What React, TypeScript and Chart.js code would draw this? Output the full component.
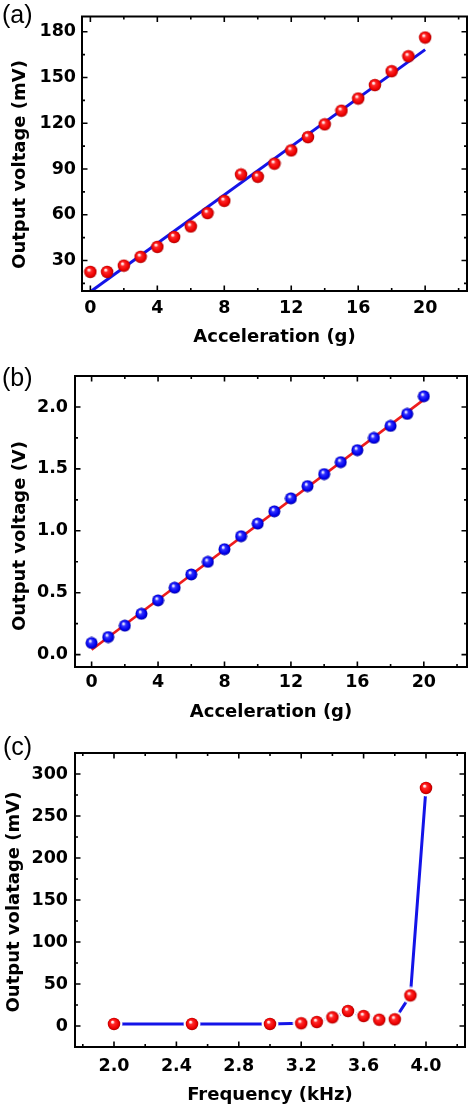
import React, { useEffect, useRef } from 'react';
import { Chart, registerables } from 'chart.js';

Chart.register(...registerables);

// ---------- Panel (a): output voltage (mV) vs acceleration (g) ----------
const A_ACCEL = [0, 1, 2, 3, 4, 5, 6, 7, 8, 9, 10, 11, 12, 13, 14, 15, 16, 17, 18, 19, 20];
const A_VOLTAGE_MV = [22.5, 22.5, 26.6, 32.4, 38.9, 45.4, 52.3, 61.1, 69.1, 86.4, 84.9, 93.5, 102.2, 110.9, 119.3, 128.2, 136.2, 145.0, 154.1, 163.9, 176.2];
const A_FIT_X = [0, 20];
const A_FIT_Y = [9.5, 168.3];
const A_X_TICKS = [0, 4, 8, 12, 16, 20];
const A_X_MINOR = [2, 6, 10, 14, 18, 22];
const A_Y_TICKS = [30, 60, 90, 120, 150, 180];
const A_Y_MINOR = [15, 45, 75, 105, 135, 165];

// ---------- Panel (b): output voltage (V) vs acceleration (g) ----------
const B_ACCEL = [0, 1, 2, 3, 4, 5, 6, 7, 8, 9, 10, 11, 12, 13, 14, 15, 16, 17, 18, 19, 20];
const B_VOLTAGE_V = [0.094, 0.142, 0.234, 0.33, 0.438, 0.54, 0.647, 0.749, 0.851, 0.956, 1.058, 1.157, 1.262, 1.361, 1.458, 1.554, 1.651, 1.75, 1.847, 1.944, 2.086];
const B_FIT_X = [0, 20];
const B_FIT_Y = [0.04, 2.059];
const B_X_TICKS = [0, 4, 8, 12, 16, 20];
const B_X_MINOR = [2, 6, 10, 14, 18, 22];
const B_Y_TICKS = [0, 0.5, 1.0, 1.5, 2.0];
const B_Y_MINOR = [0.25, 0.75, 1.25, 1.75];

// ---------- Panel (c): output voltage (mV) vs frequency (kHz) ----------
const C_FREQ = [2.0, 2.5, 3.0, 3.2, 3.3, 3.4, 3.5, 3.6, 3.7, 3.8, 3.9, 4.0];
const C_VOLTAGE_MV = [2.4, 2.4, 2.4, 3.2, 4.7, 10.3, 17.8, 11.9, 7.5, 7.9, 36.4, 283.4];
const C_X_TICKS = [2.0, 2.4, 2.8, 3.2, 3.6, 4.0];
const C_X_MINOR = [1.8, 2.2, 2.6, 3.0, 3.4, 3.8, 4.2];
const C_Y_TICKS = [0, 50, 100, 150, 200, 250, 300];
const C_Y_MINOR = [25, 75, 125, 175, 225, 275];

const W = 474;
const TICK_FONT = { family: '"DejaVu Sans", sans-serif', size: 17.5, weight: 'bold' as const };
const TITLE_FONT = { family: '"DejaVu Sans", sans-serif', size: 18, weight: 'bold' as const };

function makeSphere(kind: 'red' | 'blue', diameter: number, ring: number): HTMLCanvasElement {
  const size = Math.ceil(diameter + ring * 2) + 1;
  const c = document.createElement('canvas');
  c.width = size;
  c.height = size;
  const ctx = c.getContext('2d')!;
  const cx = size / 2;
  const cy = size / 2;
  const r = diameter / 2;
  if (ring > 0) {
    ctx.beginPath();
    ctx.arc(cx, cy, r + ring, 0, Math.PI * 2);
    ctx.fillStyle = '#ffffff';
    ctx.fill();
  }
  const g = ctx.createRadialGradient(cx - r * 0.28, cy - r * 0.38, 0, cx, cy, r);
  if (kind === 'red') {
    g.addColorStop(0, '#ffffff');
    g.addColorStop(0.16, '#ffd6d6');
    g.addColorStop(0.34, '#ff2a2a');
    g.addColorStop(0.78, '#ee0000');
    g.addColorStop(1, '#a80000');
  } else {
    g.addColorStop(0, '#ffffff');
    g.addColorStop(0.16, '#d6d6ff');
    g.addColorStop(0.34, '#3434ff');
    g.addColorStop(0.78, '#0000ee');
    g.addColorStop(1, '#0000a0');
  }
  ctx.beginPath();
  ctx.arc(cx, cy, r, 0, Math.PI * 2);
  ctx.fillStyle = g;
  ctx.fill();
  return c;
}

type Spec = {
  top: number;
  height: number;
  area: { left: number; top: number; right: number; bottom: number };
  xRange: [number, number];
  yRange: [number, number];
  xTicks: number[];
  xMinor: number[];
  yTicks: number[];
  yMinor: number[];
  xFmt: (v: number) => string;
  yFmt: (v: number) => string;
  xTickPad: number;
  xTitlePad: number;
  yTickPad: number;
  xTitle: string;
  yTitle: string;
  yTitlePos: [number, number];
  label: string;
  labelPos: [number, number];
  datasets: () => any[];
};

function framePlugin(s: Spec) {
  return {
    id: 'frameDeco',
    afterDatasetsDraw(chart: any) {
      const { ctx, chartArea: a, scales } = chart;
      const xs = scales.x;
      const ys = scales.y;
      ctx.save();
      ctx.strokeStyle = '#000';
      ctx.lineWidth = 1.6;
      ctx.beginPath();
      const xt = (vals: number[], len: number) => {
        for (const v of vals) {
          const px = xs.getPixelForValue(v);
          if (px < a.left + 1 || px > a.right - 1) continue;
          ctx.moveTo(px, a.bottom);
          ctx.lineTo(px, a.bottom - len);
          ctx.moveTo(px, a.top);
          ctx.lineTo(px, a.top + len);
        }
      };
      const yt = (vals: number[], len: number) => {
        for (const v of vals) {
          const py = ys.getPixelForValue(v);
          if (py < a.top + 1 || py > a.bottom - 1) continue;
          ctx.moveTo(a.left, py);
          ctx.lineTo(a.left + len, py);
          ctx.moveTo(a.right, py);
          ctx.lineTo(a.right - len, py);
        }
      };
      xt(s.xTicks, 5.5);
      xt(s.xMinor, 3);
      yt(s.yTicks, 5.5);
      yt(s.yMinor, 3);
      ctx.stroke();
      ctx.lineWidth = 2;
      ctx.strokeRect(a.left, a.top, a.right - a.left, a.bottom - a.top);

      ctx.fillStyle = '#000';
      ctx.save();
      ctx.translate(s.yTitlePos[0], s.yTitlePos[1]);
      ctx.rotate(-Math.PI / 2);
      ctx.font = 'bold 18px "DejaVu Sans"';
      ctx.textAlign = 'center';
      ctx.textBaseline = 'middle';
      ctx.fillText(s.yTitle, 0, 0);
      ctx.restore();

      ctx.font = '25px "Liberation Sans"';
      ctx.textAlign = 'left';
      ctx.textBaseline = 'alphabetic';
      ctx.fillText(s.label, s.labelPos[0], s.labelPos[1]);
      ctx.restore();
    },
  };
}

function Panel({ spec }: { spec: Spec }) {
  const ref = useRef<HTMLCanvasElement | null>(null);
  useEffect(() => {
    if (!ref.current) return;
    const s = spec;
    const chart = new Chart(ref.current, {
      type: 'scatter',
      data: { datasets: s.datasets() },
      options: {
        animation: false,
        responsive: false,
        devicePixelRatio: 1,
        layout: { padding: { top: s.area.top, right: W - s.area.right, left: 0, bottom: 0 } },
        plugins: { legend: { display: false }, tooltip: { enabled: false } },
        events: [],
        scales: {
          x: {
            type: 'linear',
            min: s.xRange[0],
            max: s.xRange[1],
            afterBuildTicks: (sc: any) => {
              sc.ticks = s.xTicks.map((v) => ({ value: v }));
            },
            afterFit: (sc: any) => {
              sc.height = s.height - s.area.bottom;
            },
            grid: { display: false, drawTicks: false },
            border: { display: false },
            ticks: {
              color: '#000',
              font: TICK_FONT,
              padding: s.xTickPad,
              maxRotation: 0,
              autoSkip: false,
              callback: (v: any) => s.xFmt(Number(v)),
            },
            title: {
              display: true,
              text: s.xTitle,
              color: '#000',
              font: TITLE_FONT,
              padding: { top: 0, bottom: s.xTitlePad },
            },
          },
          y: {
            type: 'linear',
            min: s.yRange[0],
            max: s.yRange[1],
            afterBuildTicks: (sc: any) => {
              sc.ticks = s.yTicks.map((v) => ({ value: v }));
            },
            afterFit: (sc: any) => {
              sc.width = s.area.left;
            },
            grid: { display: false, drawTicks: false },
            border: { display: false },
            ticks: {
              color: '#000',
              font: TICK_FONT,
              padding: s.yTickPad,
              autoSkip: false,
              callback: (v: any) => s.yFmt(Number(v)),
            },
          },
        },
      } as any,
      plugins: [framePlugin(s)],
    });
    return () => chart.destroy();
  }, [spec]);
  return (
    <canvas
      ref={ref}
      width={W}
      height={spec.height}
      style={{ position: 'absolute', left: 0, top: spec.top, width: W, height: spec.height, display: 'block' }}
    />
  );
}

const RED_SPHERE = () => makeSphere('red', 12.5, 0);
const BLUE_SPHERE = () => makeSphere('blue', 12, 0);
const RED_SPHERE_RING = () => makeSphere('red', 12.5, 2.2);

const toPts = (xs: number[], ys: number[]) => xs.map((x, i) => ({ x, y: ys[i] }));

const SPEC_A: Spec = {
  top: 0,
  height: 356,
  area: { left: 82, top: 13, right: 471, bottom: 291 },
  xRange: [-0.5, 22.5],
  yRange: [10, 190],
  xTicks: A_X_TICKS,
  xMinor: A_X_MINOR,
  yTicks: A_Y_TICKS,
  yMinor: A_Y_MINOR,
  xFmt: (v) => String(v),
  yFmt: (v) => String(v),
  xTickPad: 7,
  xTitlePad: 8,
  yTickPad: 6,
  xTitle: 'Acceleration (g)',
  yTitle: 'Output voltage (mV)',
  yTitlePos: [20, 164.5],
  label: '(a)',
  labelPos: [2, 23],
  datasets: () => [
    {
      data: toPts(A_ACCEL, A_VOLTAGE_MV),
      pointStyle: RED_SPHERE(),
      pointRadius: 6,
      showLine: false,
    },
    {
      data: toPts(A_FIT_X, A_FIT_Y),
      showLine: true,
      borderColor: '#1414e8',
      borderWidth: 3,
      pointRadius: 0,
      fill: false,
    },
  ],
};

const SPEC_B: Spec = {
  top: 356,
  height: 370,
  area: { left: 75, top: 20, right: 470, bottom: 311 },
  xRange: [-1, 22.6],
  yRange: [-0.1, 2.25],
  xTicks: B_X_TICKS,
  xMinor: B_X_MINOR,
  yTicks: B_Y_TICKS,
  yMinor: B_Y_MINOR,
  xFmt: (v) => String(v),
  yFmt: (v) => v.toFixed(1),
  xTickPad: 4.5,
  xTitlePad: 3,
  yTickPad: 7,
  xTitle: 'Acceleration (g)',
  yTitle: 'Output voltage (V)',
  yTitlePos: [20.5, 180],
  label: '(b)',
  labelPos: [2, 30],
  datasets: () => [
    {
      data: toPts(B_ACCEL, B_VOLTAGE_V),
      pointStyle: BLUE_SPHERE(),
      pointRadius: 6,
      showLine: false,
    },
    {
      data: toPts(B_FIT_X, B_FIT_Y),
      showLine: true,
      borderColor: '#ee1c1c',
      borderWidth: 2.6,
      pointRadius: 0,
      fill: false,
    },
  ],
};

const SPEC_C: Spec = {
  top: 726,
  height: 383,
  area: { left: 75, top: 27, right: 470, bottom: 321 },
  xRange: [1.75, 4.25],
  yRange: [-25, 325],
  xTicks: C_X_TICKS,
  xMinor: C_X_MINOR,
  yTicks: C_Y_TICKS,
  yMinor: C_Y_MINOR,
  xFmt: (v) => v.toFixed(1),
  yFmt: (v) => String(v),
  xTickPad: 9,
  xTitlePad: 2.7,
  yTickPad: 7,
  xTitle: 'Frequency (kHz)',
  yTitle: 'Output volatage (mV)',
  yTitlePos: [14, 176],
  label: '(c)',
  labelPos: [3, 29],
  datasets: () => [
    {
      data: toPts(C_FREQ, C_VOLTAGE_MV),
      showLine: true,
      borderColor: '#1414e8',
      borderWidth: 3,
      tension: 0,
      pointStyle: RED_SPHERE_RING(),
      pointRadius: 6,
      fill: false,
    },
  ],
};

export default function App() {
  return (
    <div style={{ position: 'fixed', left: 0, top: 0, width: W, height: 1109, background: '#fff', overflow: 'hidden' }}>
      <Panel spec={SPEC_A} />
      <Panel spec={SPEC_B} />
      <Panel spec={SPEC_C} />
    </div>
  );
}
